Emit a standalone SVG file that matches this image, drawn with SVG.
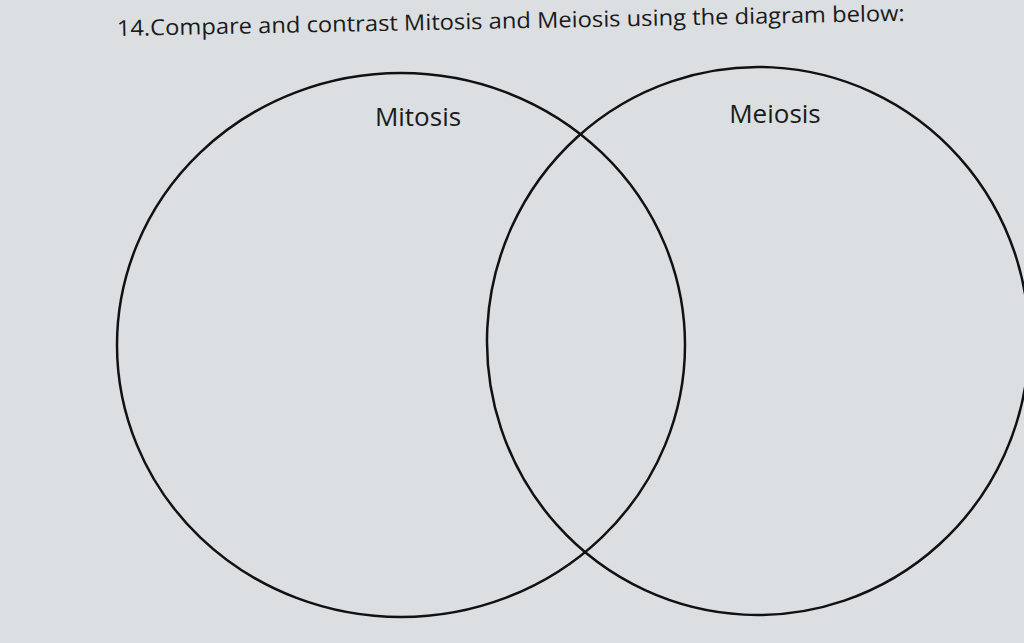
<svg xmlns="http://www.w3.org/2000/svg" width="1024" height="643" viewBox="0 0 1024 643">
<style>
.t{font-family:"Open Sans","Liberation Sans",sans-serif;fill:#1a1a1a}
.c{fill:none;stroke:#111;stroke-width:2.5}
</style>
<rect width="1024" height="643" fill="#dcdfe1"/>
<text class="t" x="117" y="36" font-size="22" textLength="788" lengthAdjust="spacingAndGlyphs" transform="rotate(-1.1 117 36)">14.Compare and contrast Mitosis and Meiosis using the diagram below:</text>
<g id="mitosis">
<ellipse class="c" cx="401" cy="345" rx="284" ry="272"/>
<text class="t" x="418" y="126" font-size="26" text-anchor="middle">Mitosis</text>
</g>
<g id="meiosis">
<ellipse class="c" cx="758" cy="341" rx="271" ry="274" transform="rotate(3 758 341)"/>
<text class="t" x="775" y="123" font-size="26" text-anchor="middle">Meiosis</text>
</g>
<g id="connectors"/>
</svg>
